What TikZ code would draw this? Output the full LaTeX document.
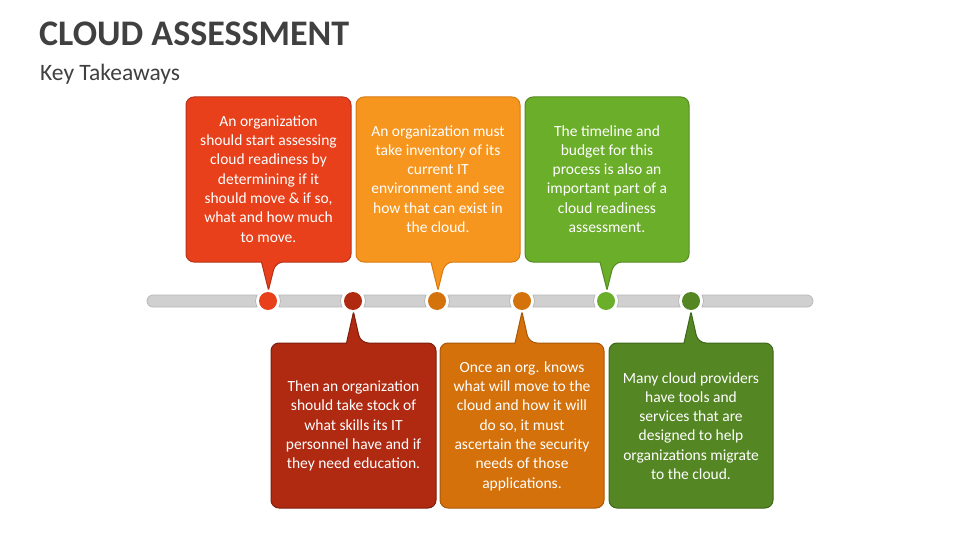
\documentclass[tikz,border=0pt]{standalone}
\usepackage{fontspec}
\setmainfont{Carlito}
\definecolor{cA}{HTML}{E8401A}\definecolor{bA}{HTML}{B8321A}
\definecolor{cB}{HTML}{F7961F}\definecolor{bB}{HTML}{D97A10}
\definecolor{cC}{HTML}{6BAE2A}\definecolor{bC}{HTML}{558B22}
\definecolor{cD}{HTML}{B02A12}\definecolor{bD}{HTML}{7E1E0C}
\definecolor{cE}{HTML}{D4710B}\definecolor{bE}{HTML}{A85808}
\definecolor{cF}{HTML}{548623}\definecolor{bF}{HTML}{3F661A}
\definecolor{dotE}{HTML}{D4730B}
\definecolor{titlegray}{HTML}{404040}
\definecolor{barfill}{HTML}{D0D0D0}\definecolor{barline}{HTML}{B8B8B8}
\newcommand\topcallout[4]{% left, right, fill, border
  \pgfmathsetmacro\cx{(#1+#2)/2}
  \draw[fill=#3,draw=#4,line width=1pt,rounded corners=8pt]
    (#1,97) -- (#2,97) -- (#2,262) -- (\cx+7,262)
    [sharp corners] -- (\cx,290) -- (\cx-7,262)
    [rounded corners=8pt] -- (#1,262) -- cycle;}
\newcommand\botcallout[4]{%
  \pgfmathsetmacro\cx{(#1+#2)/2}
  \draw[fill=#3,draw=#4,line width=1pt,rounded corners=8pt]
    (#1,508) -- (#2,508) -- (#2,343) -- (\cx+7,343)
    [sharp corners] -- (\cx,312) -- (\cx-7,343)
    [rounded corners=8pt] -- (#1,343) -- cycle;}
\tikzset{
  boxtext/.style={text=white,align=center,inner sep=0pt,
    font=\fontsize{15.5}{19.3}\selectfont},
  dot/.style={circle,minimum size=18pt,inner sep=0pt,fill=#1},
  ring/.style={circle,minimum size=25pt,inner sep=0pt,fill=white}
}
\begin{document}
\begin{tikzpicture}[x=1pt,y=-1pt]
\useasboundingbox (0,0) rectangle (960,540);
\fill[white] (0,0) rectangle (960,540);
\node[anchor=base west,inner sep=0pt,text=titlegray,font=\fontsize{36}{40}\selectfont\bfseries] (title) at (39,46) {CLOUD ASSESSMENT};
\node[anchor=base west,inner sep=0pt,text=titlegray,font=\fontsize{23.5}{26}\selectfont] (subtitle) at (40,81) {Key Takeaways};
% bar
\draw[fill=barfill,draw=barline,line width=0.8pt,rounded corners=6pt] (147,295) rectangle (813,307);
% rings
\foreach \x/\n in {268/r1,353/r2,437/r3,522/r4,606/r5,691/r6}{
  \node[ring] (\n) at (\x,301) {};
  \begin{scope}
    \clip (147,295.4) rectangle (813,306.6);
    \draw[barline,line width=0.8pt] (\x,301) circle (12.5);
  \end{scope}
}
% callouts
\topcallout{186}{351}{cA}{bA}
\topcallout{356}{520}{cB}{bB}
\topcallout{525}{689}{cC}{bC}
\botcallout{271}{436}{cD}{bD}
\botcallout{440}{604}{cE}{bE}
\botcallout{609}{773}{cF}{bF}
% redraw rings over pointer tips
\foreach \x/\n in {268/r1,353/r2,437/r3,522/r4,606/r5,691/r6}{
  \fill[white] (\x,301) circle (11.5);
}
\node[dot=cA] (d1) at (268,301) {};
\node[dot=cD] (d2) at (353,301) {};
\node[dot=dotE] (d3) at (437,301) {};
\node[dot=dotE] (d4) at (522,301) {};
\node[dot=cC] (d5) at (606,301) {};
\node[dot=cF] (d6) at (691,301) {};
% texts
\node[boxtext] (t1) at (268.5,179) {An organization\\should start assessing\\cloud readiness by\\determining if it\\should move \& if so,\\what and how much\\to move.};
\node[boxtext] (t2) at (438,179) {An organization must\\take inventory of its\\current IT\\environment and see\\how that can exist in\\the cloud.};
\node[boxtext] (t3) at (607,179) {The timeline and\\budget for this\\process is also an\\important part of a\\cloud readiness\\assessment.};
\node[boxtext] (t4) at (353.5,426) {Then an organization\\should take stock of\\what skills its IT\\personnel have and if\\they need education.};
\node[boxtext] (t5) at (522,426) {Once an org. knows\\what will move to the\\cloud and how it will\\do so, it must\\ascertain the security\\needs of those\\applications.};
\node[boxtext] (t6) at (691,426) {Many cloud providers\\have tools and\\services that are\\designed to help\\organizations migrate\\to the cloud.};
\end{tikzpicture}
\end{document}
